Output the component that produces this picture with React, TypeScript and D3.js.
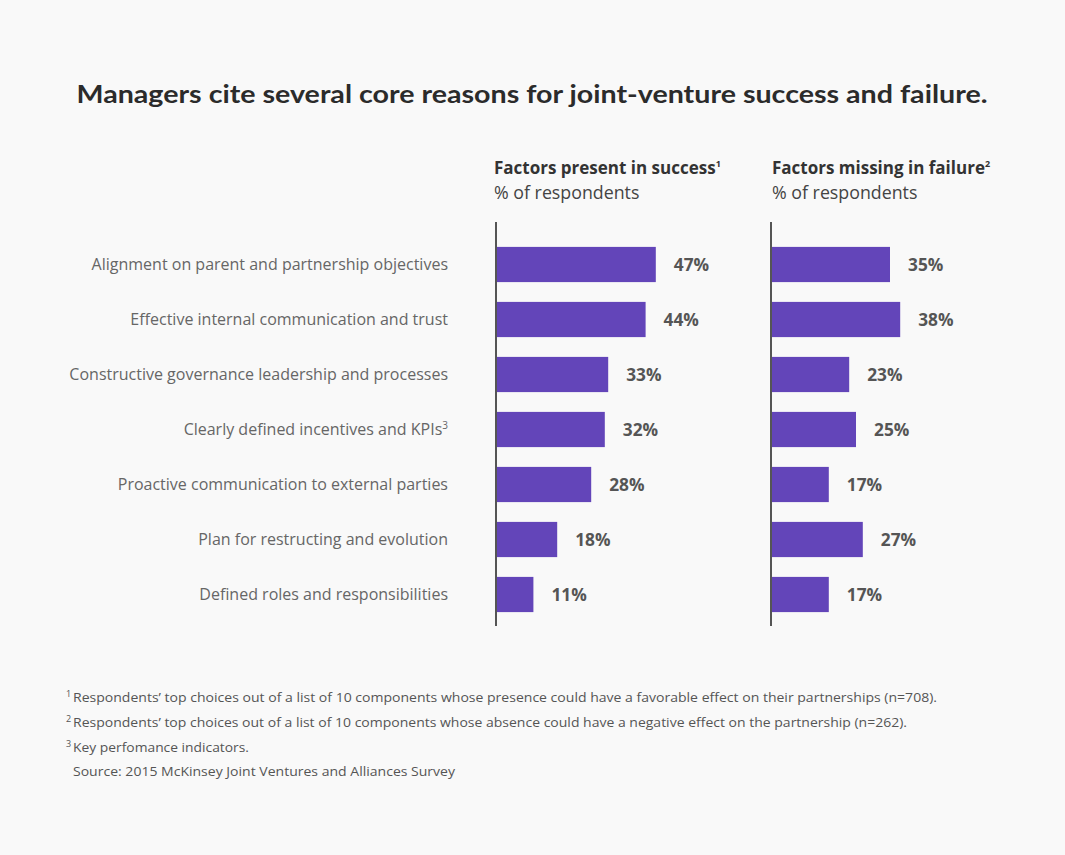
import React from 'react';
import * as d3 from 'd3';

const categories = [
    'Alignment on parent and partnership objectives',
    'Effective internal communication and trust',
    'Constructive governance leadership and processes',
    'Clearly defined incentives and KPIs',
    'Proactive communication to external parties',
    'Plan for restructing and evolution',
    'Defined roles and responsibilities',
];
const categorySup = ['', '', '', '3', '', '', ''];

const successValues = [47, 44, 33, 32, 28, 18, 11];
const failureValues = [35, 38, 23, 25, 17, 27, 17];

const footnotes = [
    { sup: '1', text: 'Respondents\u2019 top choices out of a list of 10 components whose presence could have a favorable effect on their partnerships (n=708).', len: 864 },
    { sup: '2', text: 'Respondents\u2019 top choices out of a list of 10 components whose absence could have a negative effect on the partnership (n=262).', len: 834 },
    { sup: '3', text: 'Key perfomance indicators.', len: 176 },
];
const source = 'Source: 2015 McKinsey Joint Ventures and Alliances Survey';

const W = 1065;
const H = 855;
const BAR = '#6345b9';
const TITLE_FONT = "'Lato', 'Open Sans', sans-serif";
const FONT = "'Open Sans', 'Lato', sans-serif";

const App: React.FC = () => {
    const y = d3.scaleBand<string>()
        .domain(categories)
        .range([237, 622])
        .paddingInner(0.36)
        .paddingOuter(0.18);

    const x = d3.scaleLinear().domain([0, 100]).range([0, 340]);

    const panels = [
        { left: 496, tx: -2, title: 'Factors present in success', sup: '1', values: successValues },
        { left: 771, tx: 1, title: 'Factors missing in failure', sup: '2', values: failureValues },
    ];

    return (
        <div style={{ position: 'absolute', left: 0, top: 0 }}>
            <svg width={W} height={H} style={{ display: 'block', background: '#f9f9f9' }}>
                <text x={532} y={103} textAnchor="middle" fontFamily={TITLE_FONT} fontWeight={700}
                    fontSize={25} fill="#2b2b2b" textLength={911} lengthAdjust="spacingAndGlyphs">
                    Managers cite several core reasons for joint-venture success and failure.
                </text>

                {categories.map((c, i) => (
                    <text key={c} x={448} y={(y(c) ?? 0) + y.bandwidth() / 2} dy="0.35em"
                        textAnchor="end" fontFamily={FONT} fontSize={16} fill="#666">
                        {c}
                        {categorySup[i] && <tspan dy="-6" fontSize={10}>{categorySup[i]}</tspan>}
                    </text>
                ))}

                {panels.map(p => (
                    <g key={p.title} transform={`translate(${p.left},0)`}>
                        <text x={p.tx} y={174} fontFamily={FONT} fontWeight={700} fontSize={17} fill="#333">
                            {p.title}
                            <tspan dy="-7" fontSize={9}>{p.sup}</tspan>
                        </text>
                        <text x={p.tx} y={199} fontFamily={FONT} fontSize={17.8} fill="#444">
                            % of respondents
                        </text>
                        {categories.map((c, i) => (
                            <g key={c}>
                                <rect x={0} y={y(c)} width={x(p.values[i])} height={y.bandwidth()} fill={BAR} />
                                <text x={x(p.values[i]) + 18} y={(y(c) ?? 0) + y.bandwidth() / 2} dy="0.36em"
                                    fontFamily={FONT} fontWeight={700} fontSize={17.3} fill="#555">
                                    {p.values[i]}%
                                </text>
                            </g>
                        ))}
                        <line x1={0} x2={0} y1={222} y2={626} stroke="#555" strokeWidth={2} />
                    </g>
                ))}

                {footnotes.map((f, i) => (
                    <g key={f.sup}>
                        <text x={66} y={697 + i * 25} fontFamily={FONT} fontSize={9} fill="#555">{f.sup}</text>
                        <text x={73} y={702 + i * 25} fontFamily={FONT} fontSize={13.5} fill="#555"
                            textLength={f.len} lengthAdjust="spacingAndGlyphs">{f.text}</text>
                    </g>
                ))}
                <text x={73} y={776} fontFamily={FONT} fontSize={13.5} fill="#555"
                    textLength={382} lengthAdjust="spacingAndGlyphs">{source}</text>
            </svg>
        </div>
    );
};

export default App;
